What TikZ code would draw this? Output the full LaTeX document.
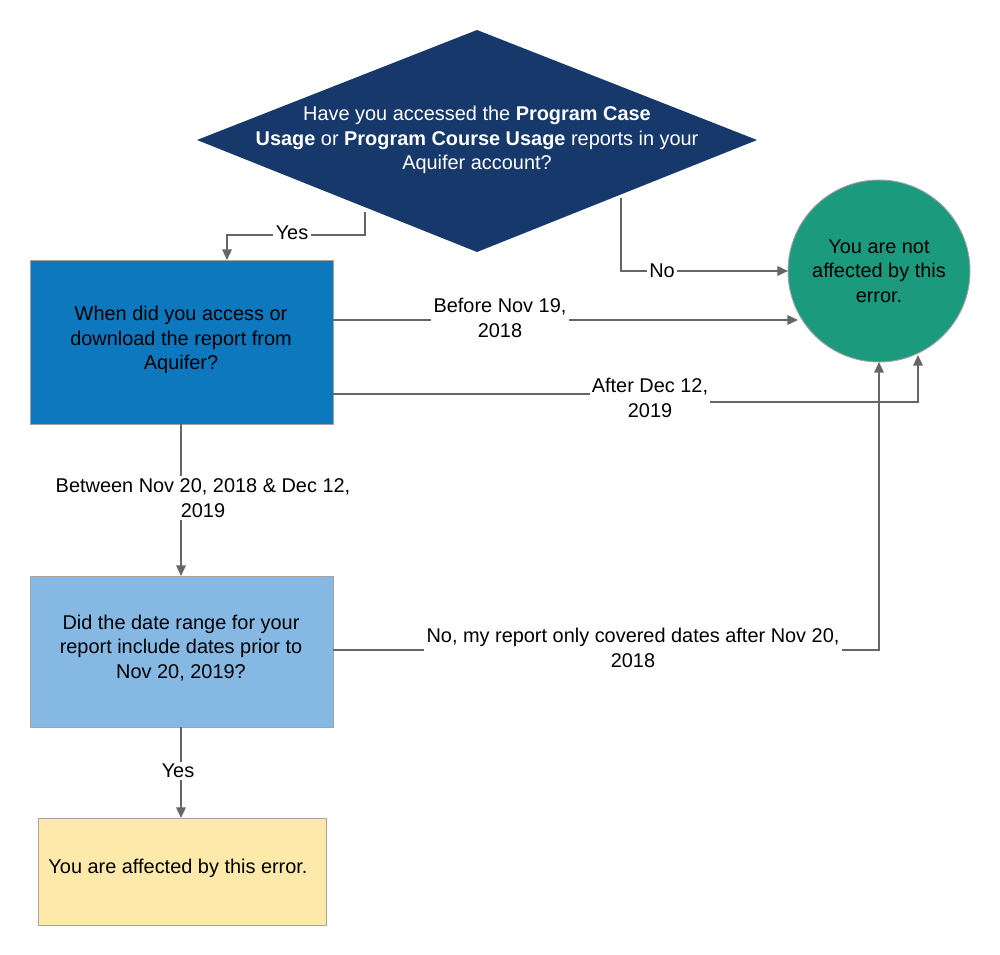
\documentclass[tikz,border=0pt]{standalone}
\usepackage{fontspec}
\setmainfont{Liberation Sans}
\usetikzlibrary{arrows.meta}
\definecolor{navy}{HTML}{17386A}
\definecolor{teal}{HTML}{1C9A7E}
\definecolor{blueA}{HTML}{0E78BE}
\definecolor{blueB}{HTML}{85B9E3}
\definecolor{yel}{HTML}{FDE9A9}
\definecolor{ln}{HTML}{666666}
\begin{document}
\begin{tikzpicture}[x=0.03cm,y=-0.03cm,
  every node/.style={font=\fontsize{17}{21}\selectfont},
  box/.style={draw=ln!60,line width=0.8pt,align=center},
  conn/.style={draw=ln,line width=1.6pt,-{Triangle[length=9pt,width=8pt]}},
  lab/.style={fill=white,align=center,inner sep=2pt}]
\useasboundingbox (0,0) rectangle (1000,955);
\fill[navy] (477,30) -- (757,140) -- (477,252) -- (197,140) -- cycle;
\node[text=white,align=center] (q1) at (477,140) {Have you accessed the \textbf{Program Case}\\\textbf{Usage} or \textbf{Program Course Usage} reports in your\\Aquifer account?};
\coordinate (d1) at (365,212);
\coordinate (d2) at (621,198);
\node[box,circle,fill=teal,minimum size=182*0.03cm] (c) at (879,271) {You are not\\affected by this\\error.};
\path[box,fill=blueA] (30,260) rectangle (333,424);
\node[align=center] (b1) at (181,340) {When did you access or\\download the report from\\Aquifer?};
\path[box,fill=blueB] (30,576) rectangle (333,727);
\node[align=center] (b2) at (181,648) {Did the date range for your\\report include dates prior to\\Nov 20, 2019?};
\path[box,fill=yel] (38,818) rectangle (326,925);
\node (b3) at (178,868) {You are affected by this error.};
\coordinate (b1t) at (227,260); \coordinate (b1b) at (181,424);
\coordinate (b2t) at (181,576); \coordinate (b2b) at (181,727);
\coordinate (b3t) at (181,818);
\coordinate (e1) at (333,320); \coordinate (e2) at (333,394); \coordinate (e3) at (333,650);
\coordinate (cl) at (788,271); \coordinate (cw) at (798,320);
\coordinate (cb1) at (918,355); \coordinate (cb2) at (879,362);
\draw[conn] (d1) -- (365,235) -- (227,235) -- (b1t);
\node[lab] at (292,233) {Yes};
\draw[conn] (d2) -- (621,271) -- (cl);
\node[lab] at (662,271) {No};
\draw[conn] (e1) -- (cw);
\node[lab] at (500,318) {Before Nov 19,\\2018};
\draw[conn] (e2) -- (652,394) -- (652,402) -- (918,402) -- (cb1);
\node[lab] at (650,398) {After Dec 12,\\2019};
\draw[conn] (b1b) -- (b2t);
\node[lab] at (203,498) {Between Nov 20, 2018 \& Dec 12,\\2019};
\draw[conn] (e3) -- (879,650) -- (cb2);
\node[lab] at (633,648) {No, my report only covered dates after Nov 20,\\2018};
\draw[conn] (b2b) -- (b3t);
\node[lab] at (178,771) {Yes};
\end{tikzpicture}
\end{document}
